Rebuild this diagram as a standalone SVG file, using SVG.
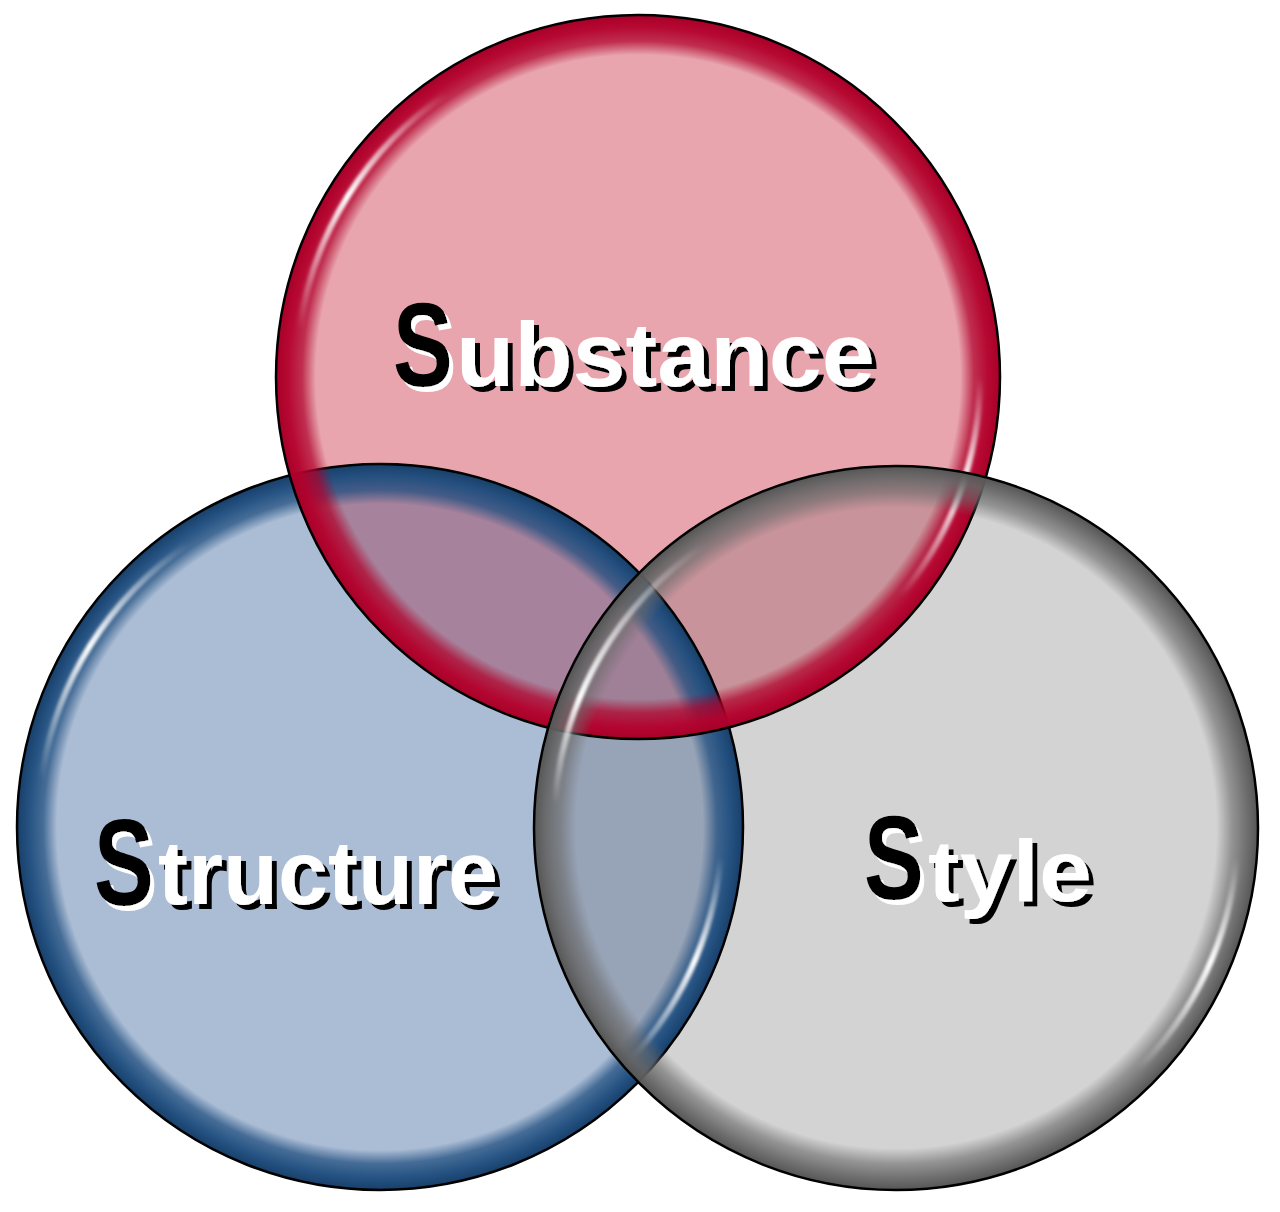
<svg xmlns="http://www.w3.org/2000/svg" width="1280" height="1212" viewBox="0 0 1280 1212">
<style>
.txt{font-family:"Liberation Sans",Arial,sans-serif;font-weight:bold}
.cap{fill:#000;filter:url(#dsW)}
.low{fill:#fff;filter:url(#dsB)}
.ol{fill:none;stroke:#000;stroke-width:2.5}
.hl{fill:none;stroke-width:6;stroke-linecap:round;filter:url(#blur)}
</style>
<defs>
<clipPath id="cpR"><circle cx="638" cy="377" r="362"/></clipPath>
<clipPath id="cpB"><circle cx="380" cy="827" r="363"/></clipPath>
<clipPath id="cpG"><circle cx="896" cy="828" r="362"/></clipPath>
<filter id="dsB" x="-10%" y="-20%" width="125%" height="150%">
<feOffset in="SourceAlpha" dx="5" dy="5" result="o"/>
<feMerge><feMergeNode in="o"/><feMergeNode in="SourceGraphic"/></feMerge>
</filter>
<filter id="dsW" x="-20%" y="-20%" width="150%" height="150%">
<feOffset in="SourceAlpha" dx="5" dy="5" result="o"/>
<feColorMatrix in="o" type="matrix" values="0 0 0 0 1  0 0 0 0 1  0 0 0 0 1  0 0 0 1 0" result="w"/>
<feMerge><feMergeNode in="w"/><feMergeNode in="SourceGraphic"/></feMerge>
</filter>
<radialGradient id="rimR">
<stop offset="0.89" stop-color="#B0002A" stop-opacity="0"/>
<stop offset="0.928" stop-color="#B0002A" stop-opacity="0.72"/>
<stop offset="0.967" stop-color="#B4002C" stop-opacity="0.95"/>
<stop offset="1" stop-color="#A80028" stop-opacity="1"/>
</radialGradient>
<radialGradient id="rimB">
<stop offset="0.89" stop-color="#1E4D7E" stop-opacity="0"/>
<stop offset="0.928" stop-color="#1E4D7E" stop-opacity="0.72"/>
<stop offset="0.967" stop-color="#1E4D7E" stop-opacity="0.95"/>
<stop offset="1" stop-color="#183F6A" stop-opacity="1"/>
</radialGradient>
<radialGradient id="rimG">
<stop offset="0.885" stop-color="#6A6A6A" stop-opacity="0"/>
<stop offset="0.928" stop-color="#6A6A6A" stop-opacity="0.6"/>
<stop offset="0.967" stop-color="#666666" stop-opacity="0.9"/>
<stop offset="1" stop-color="#555555" stop-opacity="1"/>
</radialGradient>
<filter id="blur" x="-20%" y="-20%" width="140%" height="140%"><feGaussianBlur stdDeviation="1.5"/></filter>
<linearGradient id="hRu" gradientUnits="userSpaceOnUse" x1="299.3" y1="329.4" x2="446.8" y2="93.5">
<stop offset="0" stop-color="#fff" stop-opacity="0"/><stop offset="0.5" stop-color="#fff" stop-opacity="1"/><stop offset="1" stop-color="#fff" stop-opacity="0"/></linearGradient>
<linearGradient id="hRl" gradientUnits="userSpaceOnUse" x1="980" y1="377" x2="900" y2="596.8">
<stop offset="0" stop-color="#fff" stop-opacity="0"/><stop offset="0.45" stop-color="#fff" stop-opacity="1"/><stop offset="1" stop-color="#fff" stop-opacity="0"/></linearGradient>
<linearGradient id="hBu" gradientUnits="userSpaceOnUse" x1="41.3" y1="779.4" x2="188.8" y2="543.5">
<stop offset="0" stop-color="#fff" stop-opacity="0"/><stop offset="0.5" stop-color="#fff" stop-opacity="1"/><stop offset="1" stop-color="#fff" stop-opacity="0"/></linearGradient>
<linearGradient id="hBl" gradientUnits="userSpaceOnUse" x1="720.7" y1="856.8" x2="621.8" y2="1068.8">
<stop offset="0" stop-color="#fff" stop-opacity="0"/><stop offset="0.45" stop-color="#fff" stop-opacity="1"/><stop offset="1" stop-color="#fff" stop-opacity="0"/></linearGradient>
<linearGradient id="hGu" gradientUnits="userSpaceOnUse" x1="554.8" y1="804.1" x2="704.8" y2="544.5">
<stop offset="0" stop-color="#fff" stop-opacity="0"/><stop offset="0.35" stop-color="#fff" stop-opacity="1"/><stop offset="1" stop-color="#fff" stop-opacity="0"/></linearGradient>
<linearGradient id="hGl" gradientUnits="userSpaceOnUse" x1="1236.7" y1="857.8" x2="1137.8" y2="1069.8">
<stop offset="0" stop-color="#fff" stop-opacity="0"/><stop offset="0.45" stop-color="#fff" stop-opacity="1"/><stop offset="1" stop-color="#fff" stop-opacity="0"/></linearGradient>
</defs>
<rect width="1280" height="1212" fill="#fff"/>
<g id="fills">
<circle cx="380" cy="827" r="363" fill="#ABBDD5"/>
<circle cx="638" cy="377" r="362" fill="#E8A5AE"/>
<circle cx="896" cy="828" r="362" fill="#D3D3D3"/>
<g clip-path="url(#cpB)"><circle cx="638" cy="377" r="362" fill="#A7829C"/></g>
<g clip-path="url(#cpG)"><circle cx="638" cy="377" r="362" fill="#C8939A"/></g>
<g clip-path="url(#cpG)"><circle cx="380" cy="827" r="363" fill="#97A3B6"/></g>
<g clip-path="url(#cpG)"><g clip-path="url(#cpB)"><circle cx="638" cy="377" r="362" fill="#A08097"/></g></g>
</g>
<g id="structure">
<circle cx="380" cy="827" r="363" fill="url(#rimB)"/>
<path class="hl" stroke="url(#hBu)" d="M41.3,779.4 A342,342 0 0 1 188.8,543.5"/>
<path class="hl" stroke="url(#hBl)" d="M720.7,856.8 A342,342 0 0 1 621.8,1068.8"/>
<circle class="ol" cx="380" cy="827" r="363"/>
</g>
<g id="substance">
<circle cx="638" cy="377" r="362" fill="url(#rimR)"/>
<path class="hl" stroke="url(#hRu)" d="M299.3,329.4 A342,342 0 0 1 446.8,93.5"/>
<path class="hl" stroke="url(#hRl)" d="M980,377 A342,342 0 0 1 900,596.8"/>
<circle class="ol" cx="638" cy="377" r="362"/>
</g>
<g id="style">
<circle cx="896" cy="828" r="362" fill="url(#rimG)"/>
<path class="hl" stroke="url(#hGu)" d="M554.8,804.1 A342,342 0 0 1 704.8,544.5"/>
<path class="hl" stroke="url(#hGl)" d="M1236.7,857.8 A342,342 0 0 1 1137.8,1069.8"/>
<circle class="ol" cx="896" cy="828" r="362"/>
</g>
<g id="label-substance" class="txt">
<text class="cap" transform="translate(393,386) scale(0.76,1)" font-size="118">S</text>
<text class="low" transform="translate(456,386) scale(1.06,1)" font-size="90">ubstance</text>
</g>
<g id="label-structure" class="txt">
<text class="cap" transform="translate(94,905) scale(0.735,1)" font-size="122">S</text>
<text class="low" transform="translate(158,904)" font-size="90">tructure</text>
</g>
<g id="label-style" class="txt">
<text class="cap" transform="translate(864,899) scale(0.76,1)" font-size="118">S</text>
<text class="low" transform="translate(928,901) scale(1.08,1)" font-size="88">tyle</text>
</g>
</svg>
